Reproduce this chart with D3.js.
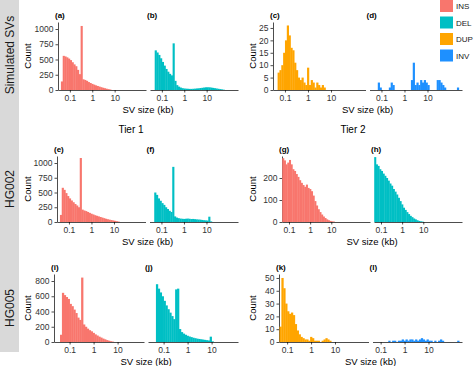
<!DOCTYPE html>
<html>
<head>
<meta charset="utf-8">
<script src="https://cdn.jsdelivr.net/npm/d3@7"></script>
<style>
  body { margin: 0; background: #fff; }
  svg { display: block; font-family: "Liberation Sans", Arial, sans-serif; }
  .tick text { fill: #333; font-size: 8.5px; }
  .tick line, .domain { stroke: #000; stroke-width: 0.7px; }
</style>
</head>
<body>
<div id="chart"></div>
<script>
// histogram bins on log10(kb): width 0.08, first bin starts at log10 = -1.4
const binStart = -1.4;
const binWidth = 0.08;

const typeNames = ['INS', 'DEL', 'DUP', 'INV'];
const typeColors = ['#F8766D', '#00BFC4', '#FFA500', '#1E90FF'];
const rowLabels = ['Simulated SVs', 'HG002', 'HG005'];
const tierLabels = ['Tier 1', 'Tier 2'];
const xTicks = [0.1, 1, 10];

const countTicks1000 = [0, 250, 500, 750, 1000];
const countTicks25 = [0, 5, 10, 15, 20, 25];
const countTicks200 = [0, 100, 200];
const countTicks800 = [0, 200, 400, 600, 800];
const countTicks50 = [0, 10, 20, 30, 40, 50];

// counts per bin
const insSimulated = [140, 560, 550, 535, 515, 490, 455, 420, 390, 330, 260, 1050, 175, 165, 150, 130, 115, 100, 88, 76, 66, 56, 46, 37, 29, 21, 14, 8];
const delSimulated = [0, 650, 615, 575, 520, 460, 400, 345, 300, 265, 240, 765, 150, 80, 55, 40, 30, 25, 22, 20, 18, 18, 20, 22, 25, 28, 32, 36, 40, 44, 45, 44, 40, 35, 30, 25, 20, 15, 10, 5];
const dupSimulated = [0, 7, 8, 10, 15, 20, 26, 22, 17, 16, 11, 8, 5, 4, 5, 3, 2, 9, 2, 4, 3, 1, 3, 2, 1, 2, 1];
const invSimulated = [0, 0, 0, 3, 1, 0, 0, 0, 0, 1, 3, 2, 0, 0, 0, 0, 0, 0, 0, 0, 0, 4, 11, 2, 3, 2, 4, 3, 4, 3, 2, 0, 0, 0, 0, 4, 4, 3, 2, 1, 0, 0, 0, 0, 0, 0, 1];
const insHG002T1 = [120, 580, 545, 490, 440, 400, 365, 335, 305, 280, 250, 1085, 210, 195, 185, 170, 155, 140, 128, 115, 105, 95, 85, 75, 65, 55, 47, 40, 33, 27, 20, 14, 8];
const delHG002T1 = [0, 500, 460, 400, 360, 320, 290, 250, 220, 190, 170, 935, 95, 75, 65, 58, 55, 52, 55, 58, 55, 50, 52, 48, 45, 42, 40, 35, 30, 28, 25, 90, 10];
const insHG002T2 = [0, 290, 280, 262, 270, 282, 262, 240, 232, 218, 205, 190, 178, 168, 160, 170, 155, 150, 140, 120, 95, 75, 58, 45, 34, 25, 18, 12, 8, 5, 3, 2];
const delHG002T2 = [0, 295, 262, 255, 240, 232, 220, 210, 200, 188, 175, 165, 150, 138, 125, 110, 95, 80, 65, 55, 45, 36, 28, 22, 16, 12, 8, 5, 3, 2];
const insHG005T1 = [95, 645, 615, 590, 565, 500, 470, 425, 380, 320, 290, 845, 230, 200, 175, 155, 140, 120, 100, 85, 70, 58, 45, 35, 25, 17, 10, 5];
const delHG005T1 = [0, 758, 700, 650, 600, 540, 480, 430, 385, 340, 300, 690, 700, 170, 130, 110, 95, 82, 72, 64, 56, 50, 44, 40, 36, 32, 28, 24, 20, 70, 8];
const dupHG005 = [0, 12, 50, 42, 30, 24, 22, 23, 21, 14, 9, 6, 4, 3, 2, 2, 1, 4, 3, 1, 1, 1, 0, 1, 2, 3, 2, 1];
const invHG005 = [0, 0, 0, 0, 0, 0, 0, 0, 0, 1, 0, 1, 1, 0, 1, 1, 2, 1, 2, 1, 2, 2, 1, 2, 1, 2, 3, 2, 1, 2, 1, 1, 0, 1, 0, 1, 2, 1, 0, 0, 0, 0, 0, 0, 0, 1];

const W = 474, H = 366;
const rowTop = [22, 156, 274];
const rowBottom = [90, 222, 342];
const panelGap = 4;

// one entry per row and tier: y axis position, panel width, x range (log10 kb)
const groups = [
  {row: 0, tier: 0, x0: 58,  w: 88,   lo: -1.53, hi: 2.4,  yMax: 1115, yTicks: countTicks1000,
   panels: [['a', insSimulated, 0], ['b', delSimulated, 1]]},
  {row: 0, tier: 1, x0: 273, w: 92.5, lo: -1.52, hi: 2.5,  yMax: 27.4, yTicks: countTicks25,
   panels: [['c', dupSimulated, 2], ['d', invSimulated, 3]]},
  {row: 1, tier: 0, x0: 57,  w: 88.5, lo: -1.53, hi: 2.4,  yMax: 1119, yTicks: countTicks1000,
   panels: [['e', insHG002T1, 0], ['f', delHG002T1, 1]]},
  {row: 1, tier: 1, x0: 282, w: 88,   lo: -1.33, hi: 2.83, yMax: 300,  yTicks: countTicks200,
   panels: [['g', insHG002T2, 0], ['h', delHG002T2, 1]]},
  {row: 2, tier: 0, x0: 54,  w: 90,   lo: -1.65, hi: 2.1,  yMax: 892,  yTicks: countTicks800,
   panels: [['i', insHG005T1, 0], ['j', delHG005T1, 1]]},
  {row: 2, tier: 1, x0: 279, w: 89.5, lo: -1.34, hi: 2.4,  yMax: 53.1, yTicks: countTicks50,
   panels: [['k', dupHG005, 2], ['l', invHG005, 3]]}
];

const svg = d3.select('#chart')
  .append('svg')
  .attr('width', W)
  .attr('height', H);

//row strip on the left
svg.append('rect')
  .attr('x', 0).attr('y', 0)
  .attr('width', 19).attr('height', 352)
  .attr('fill', '#d9d9d9');

const stripCenter = [55, 189, 308];
rowLabels.forEach((label, r) => {
  svg.append('text')
    .attr('transform', `translate(14,${stripCenter[r]}) rotate(-90)`)
    .attr('text-anchor', 'middle')
    .style('font-size', '12px')
    .attr('fill', '#1a1a1a')
    .text(label);
});

//tier titles
const tierCenter = [131, 353];
tierLabels.forEach((label, t) => {
  svg.append('text')
    .attr('x', tierCenter[t])
    .attr('y', 132.5)
    .attr('text-anchor', 'middle')
    .style('font-size', '10px')
    .text(label);
});

groups.forEach(g => {
  const top = rowTop[g.row];
  const bottom = rowBottom[g.row];

  const yScale = d3.scaleLinear()
    .domain([0, g.yMax])
    .range([bottom, top]);

  //y axis only on the first panel
  svg.append('g')
    .attr('transform', `translate(${g.x0},0)`)
    .call(d3.axisLeft(yScale)
      .tickValues(g.yTicks)
      .tickFormat(d3.format('d'))
      .tickSize(2.5)
      .tickSizeOuter(0)
      .tickPadding(2));

  //Count title
  svg.append('text')
    .attr('transform', `translate(${g.tier === 0 ? 31 : 256},${(top + bottom) / 2}) rotate(-90)`)
    .attr('text-anchor', 'middle')
    .style('font-size', '9.5px')
    .text('Count');

  //SV size title
  svg.append('text')
    .attr('x', g.x0 + g.w + panelGap / 2)
    .attr('y', bottom + 22.5)
    .attr('text-anchor', 'middle')
    .style('font-size', '9.5px')
    .text('SV size (kb)');

  g.panels.forEach(([letter, counts, type], p) => {
    const left = g.x0 + p * (g.w + panelGap);

    const xScale = d3.scaleLog()
      .domain([Math.pow(10, g.lo), Math.pow(10, g.hi)])
      .range([left, left + g.w]);

    const bins = counts.map((c, i) => ({
      x0: Math.pow(10, binStart + i * binWidth),
      x1: Math.pow(10, binStart + (i + 1) * binWidth),
      count: c
    })).filter(d => d.count > 0);

    const clipId = `clip_${letter}`;
    svg.append('clipPath')
      .attr('id', clipId)
      .append('rect')
      .attr('x', left).attr('y', top - 5)
      .attr('width', g.w).attr('height', bottom - top + 5);

    //bars overlap a little so no seams show between them
    svg.append('g')
      .attr('clip-path', `url(#${clipId})`)
      .selectAll('rect')
      .data(bins)
      .enter()
      .append('rect')
      .attr('x', d => xScale(d.x0))
      .attr('width', d => xScale(d.x1) - xScale(d.x0) + 0.35)
      .attr('y', d => yScale(d.count))
      .attr('height', d => bottom - yScale(d.count))
      .attr('fill', typeColors[type]);

    svg.append('g')
      .attr('transform', `translate(0,${bottom})`)
      .call(d3.axisBottom(xScale)
        .tickValues(xTicks)
        .tickFormat(d3.format('~g'))
        .tickSize(2.5)
        .tickSizeOuter(0)
        .tickPadding(2));

    //panel tag
    svg.append('text')
      .attr('x', left - 3)
      .attr('y', top - 4)
      .style('font-size', '8px')
      .style('font-weight', 'bold')
      .text(`(${letter})`);
  });
});

//legend
const legend = svg.append('g');
typeNames.forEach((name, i) => {
  legend.append('rect')
    .attr('x', 440)
    .attr('y', i * 16.5)
    .attr('width', 13)
    .attr('height', 12)
    .attr('fill', typeColors[i]);

  legend.append('text')
    .attr('x', 456)
    .attr('y', i * 16.5 + 9)
    .style('font-size', '8px')
    .attr('fill', '#1a1a1a')
    .text(name);
});
</script>
</body>
</html>
